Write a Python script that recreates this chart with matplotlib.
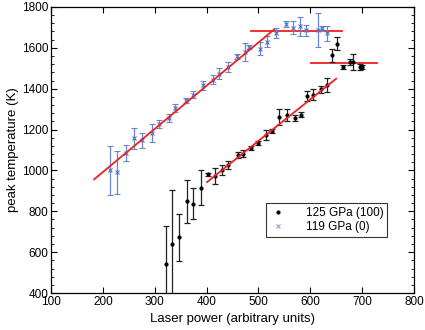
import matplotlib
matplotlib.use('Agg')
import matplotlib.pyplot as plt
from matplotlib.ticker import MultipleLocator
from matplotlib.lines import Line2D

plt.rcParams['font.family'] = ['Liberation Sans', 'DejaVu Sans']

# 125 GPa (100) - black points
black_x = [321, 333, 347, 362, 374, 389, 403, 416, 429, 442, 460, 471, 485, 500,
           515, 526, 540, 556, 570, 583, 594, 606, 620, 632, 641, 652, 664, 676,
           683, 695, 700]
black_y = [540, 642, 674, 850, 837, 916, 981, 973, 1004, 1028, 1074, 1082, 1110, 1134,
           1175, 1193, 1261, 1270, 1257, 1273, 1363, 1371, 1396, 1417, 1563, 1620, 1506, 1531,
           1531, 1506, 1506]
black_err = [190, 260, 115, 105, 75, 85, 8, 40, 24, 19, 15, 17, 8, 8,
             25, 10, 38, 30, 14, 12, 25, 27, 17, 33, 32, 32, 8, 16,
             40, 14, 12]

# 119 GPa (0) - blue points
blue_x = [214, 228, 245, 260, 275, 294, 309, 327, 340, 360, 374, 394, 413, 424,
          442, 459, 474, 481, 503, 516, 534, 553, 567, 580, 592, 614, 622, 633]
blue_y = [1000, 992, 1085, 1157, 1147, 1183, 1229, 1258, 1305, 1343, 1371, 1416, 1444, 1474,
          1506, 1558, 1580, 1602, 1595, 1629, 1673, 1715, 1699, 1705, 1686, 1686, 1695, 1670]
blue_err = [120, 105, 40, 50, 35, 42, 20, 20, 18, 13, 18, 21, 22, 25,
            23, 12, 44, 10, 32, 27, 25, 15, 30, 47, 27, 82, 12, 36]

# fitted lines
fit_blue_x = [183, 530]
fit_blue_y = [956, 1689]
fit_black_x = [401, 650]
fit_black_y = [943, 1449]
plateau_hi_x = [485, 662]
plateau_hi_y = [1684, 1684]
plateau_lo_x = [601, 729]
plateau_lo_y = [1524, 1524]

fig = plt.figure(figsize=(4.25, 3.3), dpi=100)
ax = fig.add_axes([0.12, 0.112, 0.854, 0.867])

red = '#ee2020'
blue = '#5273c6'

ax.errorbar(black_x, black_y, yerr=black_err, fmt='o', ms=2, color='black',
            ecolor='#222222', elinewidth=0.9, capsize=2.5, capthick=0.9, zorder=3)
ax.errorbar(blue_x, blue_y, yerr=blue_err, fmt='x', ms=2.5, mew=0.8, color=blue,
            ecolor='#6a86cf', elinewidth=0.9, capsize=2.5, capthick=0.9, zorder=3)

ax.plot(fit_blue_x, fit_blue_y, color=red, lw=1.3, zorder=4)
ax.plot(fit_black_x, fit_black_y, color=red, lw=1.3, zorder=4)
ax.plot(plateau_hi_x, plateau_hi_y, color=red, lw=1.3, zorder=2)
ax.plot(plateau_lo_x, plateau_lo_y, color=red, lw=1.3, zorder=2)

ax.set_xlim(100, 800)
ax.set_ylim(400, 1800)
ax.xaxis.set_major_locator(MultipleLocator(100))
ax.yaxis.set_major_locator(MultipleLocator(200))
ax.yaxis.set_minor_locator(MultipleLocator(40))
ax.tick_params(which='both', direction='in', top=True, right=True, labelsize=8.5, pad=2)
ax.tick_params(which='major', length=4, width=0.8)
ax.tick_params(which='minor', length=2, width=0.6)
for s in ax.spines.values():
    s.set_linewidth(0.9)

ax.set_xlabel('Laser power (arbitrary units)', fontsize=9.5, labelpad=4)
ax.set_ylabel('peak temperature (K)', fontsize=9.5, labelpad=2)

handles = [Line2D([], [], ls='none', marker='o', ms=2, color='black'),
           Line2D([], [], ls='none', marker='x', ms=2.5, mew=0.8, color='#8aa0d8')]
leg = ax.legend(handles, ['125 GPa (100)', '119 GPa (0)'], loc='upper left',
                bbox_to_anchor=(0.575, 0.335), fontsize=8.5, frameon=True, fancybox=False,
                edgecolor='black', handlelength=1.5, borderpad=0.3, labelspacing=0.2,
                handletextpad=1.6)
leg.get_frame().set_linewidth(0.8)

fig.savefig('out.png', dpi=100)
